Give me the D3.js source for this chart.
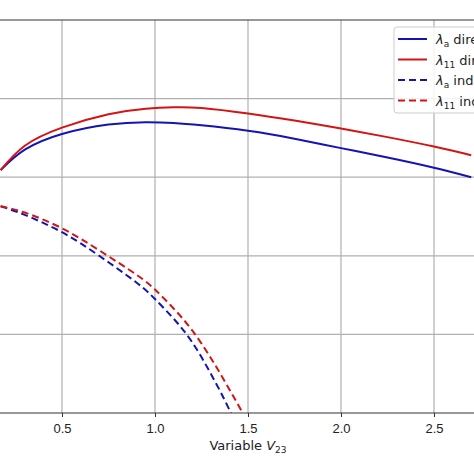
<!DOCTYPE html><html><head><meta charset="utf-8"><script src="https://cdn.jsdelivr.net/npm/d3@7"></script>
<style>body{margin:0;background:#fff}svg{display:block;font-family:"DejaVu Sans",sans-serif}</style></head><body>
<script>
const xTicks=[0.5,1.0,1.5,2.0,2.5];
const xs=[0.17,0.3,0.5,0.75,0.95,1.1,1.25,1.5,1.75,2.0,2.25,2.5,2.7];
const aDirect=[3.09,3.35,3.55,3.67,3.70,3.69,3.66,3.59,3.49,3.37,3.25,3.12,3.00];
const l11Direct=[3.09,3.40,3.63,3.80,3.87,3.89,3.88,3.81,3.72,3.62,3.51,3.39,3.28];
const xsInd=[0.17,0.3,0.5,0.7,0.9,1.0,1.1,1.2,1.3,1.4,1.5];
const aIndirect=[2.63,2.52,2.30,2.00,1.66,1.45,1.20,0.90,0.50,0.04,-0.5];
const l11Indirect=[2.63,2.55,2.35,2.07,1.76,1.57,1.33,1.05,0.70,0.30,-0.12];
const series=[["λ","a"," direct",xs,aDirect,"#1414b4",null],["λ","11"," direct",xs,l11Direct,"#d41414",null],
["λ","a"," indirect",xsInd,aIndirect,"#1414b4","7,4"],["λ","11"," indirect",xsInd,l11Indirect,"#d41414","7,4"]];
const W=474,H=474;
const x=d3.scaleLinear().domain([0.5,2.5]).range([62,434]);
const y=d3.scaleLinear().domain([0,5]).range([413,20]);
const svg=d3.select("body").append("svg").attr("width",W).attr("height",H);
svg.append("clipPath").attr("id","c").append("rect").attr("x",-5).attr("y",20).attr("width",490).attr("height",393);
const g=svg.append("g");
xTicks.forEach(t=>g.append("line").attr("x1",x(t)).attr("x2",x(t)).attr("y1",20).attr("y2",413).attr("stroke","#b0b0b0").attr("stroke-width",1.2));
[1,2,3,4].forEach(t=>g.append("line").attr("x1",0).attr("x2",W).attr("y1",y(t)).attr("y2",y(t)).attr("stroke","#b0b0b0").attr("stroke-width",1.2));
g.append("line").attr("x1",0).attr("x2",W).attr("y1",20).attr("y2",20).attr("stroke","#333").attr("stroke-width",1.2);
const ax=svg.append("g").attr("transform","translate(0,413)").call(d3.axisBottom(x).tickValues(xTicks).tickFormat(d3.format(".1f")).tickSize(4).tickSizeOuter(0));
ax.select(".domain").remove();
ax.append("line").attr("x1",0).attr("x2",W).attr("stroke","#333").attr("stroke-width",1.2);
ax.selectAll("text").attr("font-size",13).attr("fill","#222").attr("dy","1em");
ax.selectAll(".tick line").attr("stroke","#333");
const lt=svg.append("text").attr("x",248).attr("y",450).attr("text-anchor","middle").attr("font-size",13).attr("fill","#222");
lt.append("tspan").text("Variable ");lt.append("tspan").attr("font-style","italic").text("V");lt.append("tspan").attr("font-size",9).attr("dy",3).text("23");
const line=d3.line().x(d=>d[0]).y(d=>d[1]).curve(d3.curveNatural);
const pl=svg.append("g").attr("clip-path","url(#c)");
series.forEach(s=>{pl.append("path").attr("d",line(s[3].map((v,i)=>[x(v),y(s[4][i])]))).attr("fill","none").attr("stroke",s[5]).attr("stroke-width",2).attr("stroke-dasharray",s[6]);});
const lg=svg.append("g");
lg.append("rect").attr("x",394).attr("y",27).attr("width",100).attr("height",86).attr("rx",3).attr("fill","#fff").attr("fill-opacity",0.85).attr("stroke","#ccc");
series.forEach((s,i)=>{const yy=39+i*20.5;
lg.append("line").attr("x1",398).attr("x2",427).attr("y1",yy).attr("y2",yy).attr("stroke",s[5]).attr("stroke-width",2).attr("stroke-dasharray",s[6]);
const t=lg.append("text").attr("x",436).attr("y",yy+5).attr("font-size",13).attr("fill","#222");
t.append("tspan").attr("font-style","italic").text(s[0]);t.append("tspan").attr("font-size",9).attr("dy",3).text(s[1]);t.append("tspan").attr("dy",-3).text(s[2]);});
</script></body></html>
